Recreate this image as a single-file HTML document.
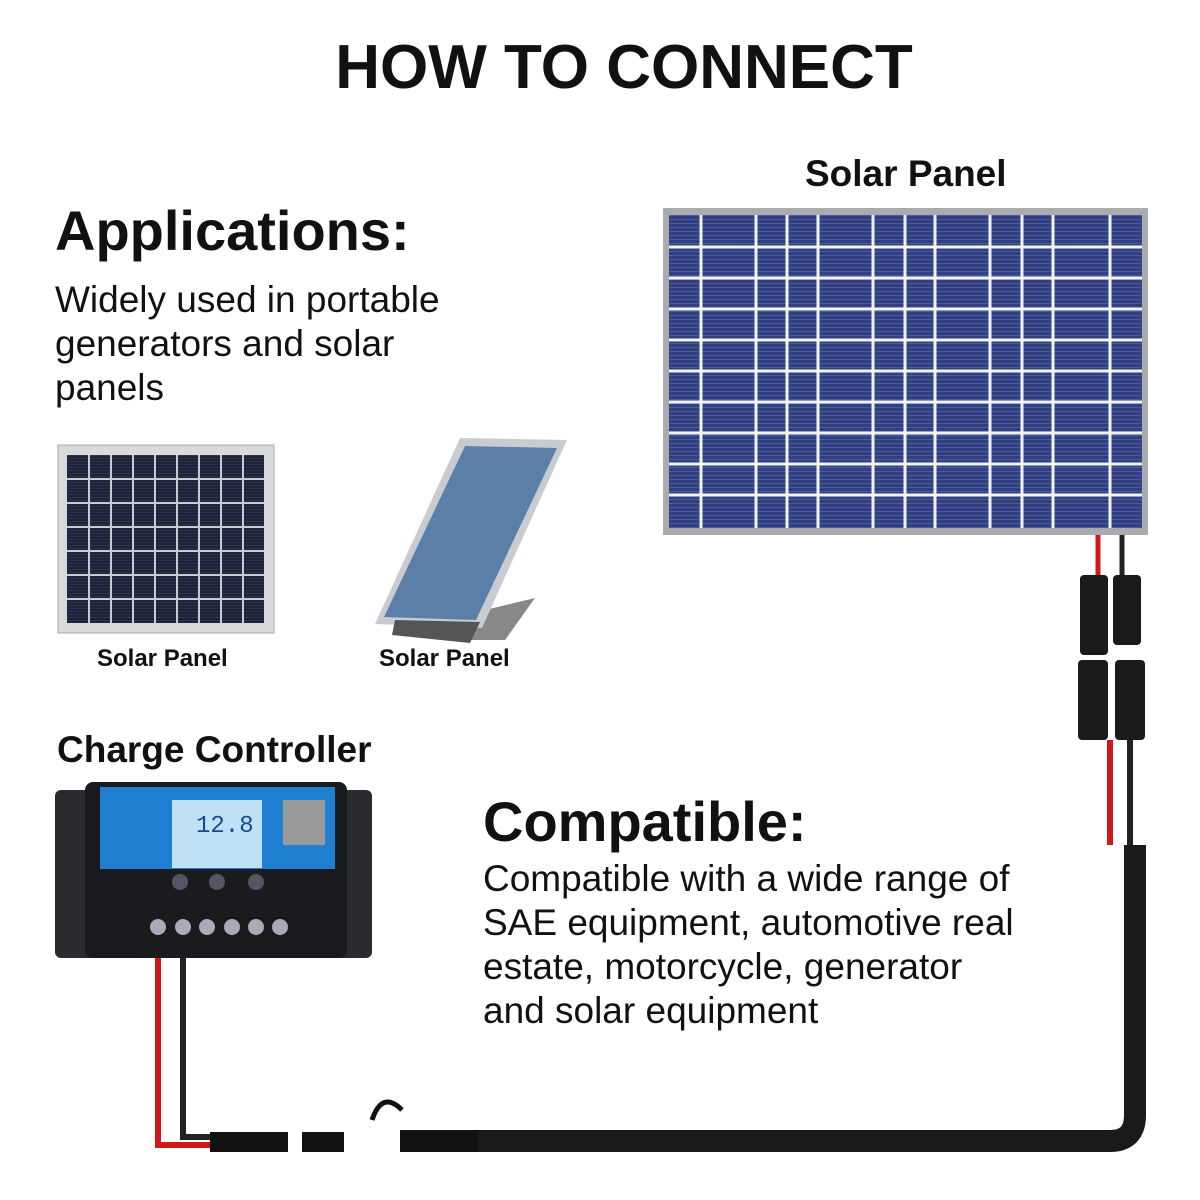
<!DOCTYPE html>
<html><head><meta charset="utf-8"><style>
body{margin:0;width:1200px;height:1200px;background:#fff;overflow:hidden;font-family:"Liberation Sans",Arial,sans-serif;}
.t{position:absolute;color:#111;white-space:nowrap}
</style></head><body>
<svg width="1200" height="1200" style="position:absolute;left:0;top:0">
<defs>
<pattern id="str" width="6" height="4" patternUnits="userSpaceOnUse"><rect width="6" height="4" fill="#33407f"/><rect y="3" width="6" height="1" fill="#4a5aa0"/></pattern>
<pattern id="dk" width="6" height="3" patternUnits="userSpaceOnUse"><rect width="6" height="3" fill="#1e2338"/><rect y="2" width="6" height="1" fill="#2c3350"/></pattern>
</defs>
<rect x="663" y="208" width="485" height="327" fill="#a9abaf"/>
<rect x="669" y="215" width="473" height="313" fill="url(#str)"/>
<g stroke="#f2f3f6" stroke-width="3">
<line x1="669" y1="247" x2="1142" y2="247"/><line x1="669" y1="278" x2="1142" y2="278"/><line x1="669" y1="309" x2="1142" y2="309"/><line x1="669" y1="340" x2="1142" y2="340"/><line x1="669" y1="371" x2="1142" y2="371"/><line x1="669" y1="402" x2="1142" y2="402"/><line x1="669" y1="433" x2="1142" y2="433"/><line x1="669" y1="464" x2="1142" y2="464"/><line x1="669" y1="495" x2="1142" y2="495"/>
<line x1="701" y1="215" x2="701" y2="528"/><line x1="756" y1="215" x2="756" y2="528"/><line x1="787" y1="215" x2="787" y2="528"/><line x1="818" y1="215" x2="818" y2="528"/><line x1="873" y1="215" x2="873" y2="528"/><line x1="905" y1="215" x2="905" y2="528"/><line x1="935" y1="215" x2="935" y2="528"/><line x1="990" y1="215" x2="990" y2="528"/><line x1="1022" y1="215" x2="1022" y2="528"/><line x1="1053" y1="215" x2="1053" y2="528"/><line x1="1110" y1="215" x2="1110" y2="528"/>
</g>
<rect x="58" y="445" width="216" height="188" fill="#d8dadc" stroke="#aaa"/>
<rect x="67" y="455" width="197" height="168" fill="url(#dk)"/>
<g stroke="#c9ccd2" stroke-width="2">
<line x1="67" y1="479" x2="264" y2="479"/><line x1="67" y1="503" x2="264" y2="503"/><line x1="67" y1="527" x2="264" y2="527"/><line x1="67" y1="551" x2="264" y2="551"/><line x1="67" y1="575" x2="264" y2="575"/><line x1="67" y1="599" x2="264" y2="599"/>
<line x1="89" y1="455" x2="89" y2="623"/><line x1="111" y1="455" x2="111" y2="623"/><line x1="133" y1="455" x2="133" y2="623"/><line x1="155" y1="455" x2="155" y2="623"/><line x1="177" y1="455" x2="177" y2="623"/><line x1="199" y1="455" x2="199" y2="623"/><line x1="221" y1="455" x2="221" y2="623"/><line x1="243" y1="455" x2="243" y2="623"/>
</g>
<polygon points="485,610 535,598 505,640 470,640" fill="#888"/>
<polygon points="460,438 567,440 482,628 375,624" fill="#c8ccd0"/>
<polygon points="465,446 557,448 476,620 384,617" fill="#5b7fa8"/>
<polygon points="395,620 480,622 470,643 392,635" fill="#555"/>
<rect x="55" y="790" width="317" height="168" rx="6" fill="#2a2b2e"/>
<rect x="85" y="782" width="262" height="176" rx="8" fill="#1a1b1e"/>
<rect x="100" y="787" width="235" height="82" fill="#1f7fd0"/>
<rect x="172" y="800" width="90" height="68" fill="#bfe0f5"/>
<text x="196" y="832" font-size="24" fill="#1a4a90" font-family="Liberation Mono">12.8</text>
<rect x="283" y="800" width="42" height="45" fill="#999"/>
<circle cx="180" cy="882" r="8" fill="#556"/><circle cx="217" cy="882" r="8" fill="#556"/><circle cx="256" cy="882" r="8" fill="#556"/>
<g fill="#aab">
<circle cx="158" cy="927" r="8"/><circle cx="183" cy="927" r="8"/><circle cx="207" cy="927" r="8"/><circle cx="232" cy="927" r="8"/><circle cx="256" cy="927" r="8"/><circle cx="280" cy="927" r="8"/></g>
<path d="M158 958 V1145 H215" stroke="#d01818" stroke-width="6" fill="none"/>
<path d="M183 958 V1137 H215" stroke="#222" stroke-width="6" fill="none"/>
<rect x="210" y="1132" width="78" height="20" fill="#111"/>
<rect x="302" y="1132" width="42" height="20" fill="#111"/>
<rect x="400" y="1130" width="78" height="22" fill="#111"/>
<path d="M372 1120 q10 -30 30 -10" stroke="#111" stroke-width="5" fill="none"/>
<path d="M478 1141 H1110 Q1135 1141 1135 1115 V845" stroke="#1a1a1a" stroke-width="22" fill="none"/>
<path d="M1110 845 V740" stroke="#d01818" stroke-width="6"/>
<path d="M1130 845 V740" stroke="#222" stroke-width="6"/>
<path d="M1098 535 V580" stroke="#d01818" stroke-width="5"/>
<path d="M1122 535 V580" stroke="#222" stroke-width="5"/>
<rect x="1080" y="575" width="28" height="80" rx="4" fill="#1a1a1a"/>
<rect x="1113" y="575" width="28" height="70" rx="4" fill="#1a1a1a"/>
<rect x="1078" y="660" width="30" height="80" rx="4" fill="#1a1a1a"/>
<rect x="1115" y="660" width="30" height="80" rx="4" fill="#1a1a1a"/>
</svg>
<div class="t" style="left:0;width:1248px;text-align:center;top:32px;font-size:62px;font-weight:bold">HOW TO CONNECT</div>
<div class="t" style="left:805px;top:153px;font-size:37px;font-weight:bold">Solar Panel</div>
<div class="t" style="left:55px;top:198px;font-size:56px;font-weight:bold">Applications:</div>
<div class="t" style="left:55px;top:278px;font-size:37px;line-height:44px">Widely used in portable<br>generators and solar<br>panels</div>
<div class="t" style="left:97px;top:645px;font-size:24px;font-weight:bold">Solar Panel</div>
<div class="t" style="left:379px;top:645px;font-size:24px;font-weight:bold">Solar Panel</div>
<div class="t" style="left:57px;top:729px;font-size:37px;font-weight:bold">Charge Controller</div>
<div class="t" style="left:483px;top:789px;font-size:56px;font-weight:bold">Compatible:</div>
<div class="t" style="left:483px;top:857px;font-size:37px;line-height:44px">Compatible with a wide range of<br>SAE equipment, automotive real<br>estate, motorcycle, generator<br>and solar equipment</div>
</body></html>
